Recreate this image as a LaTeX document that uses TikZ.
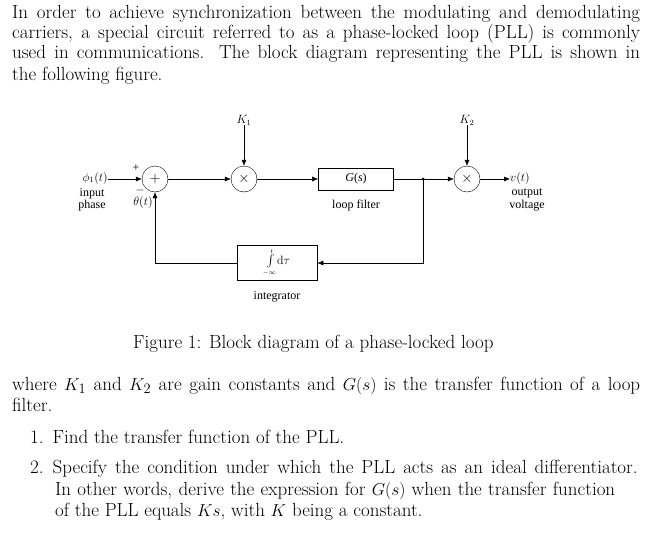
\documentclass[tikz,border=0pt]{standalone}
\usepackage{amsmath}
\usepackage{amssymb}
\usepackage{fontspec}
\newfontfamily\tms{Liberation Serif}
\usetikzlibrary{arrows.meta}
\tikzset{
  txt/.style={anchor=base west, inner sep=0pt, font=\fontsize{19}{20}\selectfont},
  blk/.style={draw, thick, minimum width=75pt, minimum height=22pt, font=\tms\fontsize{12}{13}\selectfont},
  ring/.style={circle, draw, minimum size=26pt, inner sep=0pt, font=\fontsize{15}{15}\selectfont},
  lbl/.style={inner sep=0pt, font=\tms\fontsize{12}{12.5}\selectfont, align=center},
  sig/.style={-{Latex[length=6pt,width=5pt]}}
}
\newcommand{\fl}[1]{\makebox[628pt][s]{#1}}
\begin{document}
\begin{tikzpicture}[x=1pt, y=-1pt]
    \useasboundingbox (0,0) rectangle (653,541);
    % Testo
    \node[txt] (l1) at (12,18) {\fl{In order to achieve synchronization between the modulating and demodulating}};
    \node[txt] (l2) at (12,38) {\fl{carriers, a special circuit referred to as a phase-locked loop (PLL) is commonly}};
    \node[txt] (l3) at (12,58) {\fl{used in communications. The block diagram representing the PLL is shown in}};
    \node[txt] (l4) at (12,80) {the following figure.};

    % Blocchi
    \node[ring] (sum) at (155,179) {$+$};
    \node[ring] (m1) at (244,179) {$\times$};
    \node[blk] (G) at (356,179) {\textit{G}(\textit{s})};
    \coordinate (J) at (423,179);
    \node[ring] (m2) at (467,179) {$\times$};
    \node[blk, minimum width=80pt, minimum height=33pt] (I) at (277,263) {$\int\limits_{\raisebox{2pt}{$\scriptscriptstyle-\infty$}}^{\raisebox{-2pt}{$\scriptscriptstyle t$}}\!\mathrm{d}\tau$};

    % Etichette
    \node[lbl] (K1) at (244,120) {$K_1$};
    \node[lbl] (K2) at (467,120) {$K_2$};
    \node[lbl, anchor=east] (phi) at (108,178) {$\phi_1(t)$};
    \node[lbl] (inp) at (92,200) {input\\phase};
    \node[lbl, anchor=west] (v) at (510,178) {$v(t)$};
    \node[lbl] (outp) at (527,200) {output\\voltage};
    \node[lbl] (lf) at (356,206) {loop filter};
    \node[lbl] (ig) at (277,297) {integrator};
    \node[lbl] (pl) at (136,168) {+};
    \node[lbl] (mi) at (140,190) {$-$};
    \node[lbl] (th) at (143,202) {$\theta(t)$};

    % Archi
    \draw[sig] (phi.east |- sum) -- (sum);
    \draw[sig] (sum) -- (m1);
    \draw[sig] (K1) -- (m1);
    \draw[sig] (m1) -- (G);
    \draw (G) -- (J);
    \draw[sig] (J) -- (m2);
    \draw[sig] (K2) -- (m2);
    \draw[sig] (m2) -- (v.west |- m2);
    \draw[sig] (J) |- (I);
    \draw[sig] (I) -| (sum);
    \fill (J) circle (1.5pt);

    % Didascalia e domande
    \node[txt] (cap) at (133,348) {Figure 1: Block diagram of a phase-locked loop};
    \node[txt] (w1) at (12,390) {\fl{where $K_1$ and $K_2$ are gain constants and $G(s)$ is the transfer function of a loop}};
    \node[txt] (w2) at (12,411) {filter.};
    \node[txt] (q1) at (30,443) {1.\hspace{9pt}Find the transfer function of the PLL.};
    \node[txt] (q2) at (30,473) {2.\hspace{9pt}\makebox[585pt][s]{Specify the condition under which the PLL acts as an ideal differentiator.}};
    \node[txt] (q3) at (55,495) {\makebox[560pt][s]{In other words, derive the expression for $G(s)$ when the transfer function}};
    \node[txt] (q4) at (55,516) {of the PLL equals $Ks$, with $K$ being a constant.};
\end{tikzpicture}
\end{document}
